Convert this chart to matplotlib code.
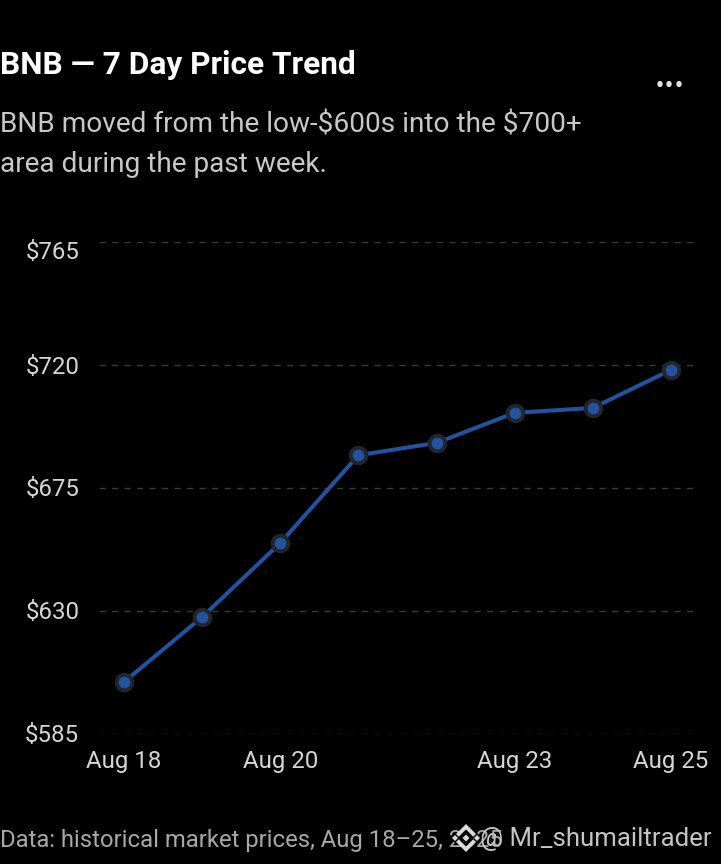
import matplotlib
matplotlib.use("Agg")
import matplotlib.pyplot as plt
from matplotlib.patches import Polygon
from matplotlib.transforms import ScaledTranslation

days = ["Aug 18", "", "Aug 20", "", "", "Aug 23", "", "Aug 25"]
prices = [604, 627.8, 654.9, 687, 691.5, 702.5, 704.3, 718.2]
y_ticks = [585, 630, 675, 720, 765]
y_labels = [r"\$585", r"\$630", r"\$675", r"\$720", r"\$765"]
y_label_shift_px = [-1, -1, -1, 0, 8]

W, H = 721, 864
plt.rcParams["font.family"] = ["Roboto", "DejaVu Sans"]
fig = plt.figure(figsize=(W / 100, H / 100), dpi=100, facecolor="black")
ax = fig.add_axes([99 / W, 1 - 734 / H, 595 / W, 492 / H], facecolor="black")

xs = list(range(len(prices)))
ax.plot(xs, prices, color="#2153A0", lw=2.9, zorder=3, clip_on=False)
ax.plot(xs, prices, ls="none", marker="o", ms=11.3, mfc="#2153A0", mec="#22252B",
        mew=2.8, zorder=4, clip_on=False)

ax.set_xlim(-0.32, 7.295)
ax.set_ylim(585, 765)
ax.set_yticks(y_ticks, y_labels)
ax.set_xticks([i for i, d in enumerate(days) if d], [d for d in days if d])
ax.grid(axis="y", color="#3A3A3A", lw=1, dashes=(4.5, 4.5))
ax.grid(axis="x", visible=False)
for s in ax.spines.values():
    s.set_visible(False)
ax.tick_params(axis="both", length=0, labelcolor="#D6D6D6", labelsize=17.3)
ax.tick_params(axis="y", pad=14.2)
ax.tick_params(axis="x", pad=11.7)
for lab, sh in zip(ax.get_yticklabels(), y_label_shift_px):
    lab.set_transform(lab.get_transform() + ScaledTranslation(0, -sh / 100, fig.dpi_scale_trans))


def px(x, y):
    return x / W, 1 - y / H


fig.text(*px(0.5, 65), "BNB — 7 Day Price Trend", color="white", fontsize=22.75,
         fontweight="bold", va="center", ha="left")
fig.text(*px(0.5, 125), r"BNB moved from the low-\$600s into the \$700+", color="#C8C8C8",
         fontsize=20.2, va="center", ha="left")
fig.text(*px(0.5, 164), "area during the past week.", color="#C8C8C8",
         fontsize=20.2, va="center", ha="left")
fig.text(*px(0.5, 841), "Data: historical market prices, Aug 18–25, 2025", color="#A8A8A8",
         fontsize=17.2, va="center", ha="left")
fig.text(*px(712, 839), "@ Mr_shumailtrader", color="#C4C4C4", fontsize=18.5,
         va="center", ha="right", zorder=6)

# overflow menu dots
for cx in (660, 669, 679):
    fig.add_artist(plt.Circle(px(cx, 84), 2.0 / W, color="#E0E0E0",
                              transform=fig.transFigure))


# watermark diamond icon
def diamond(cx, cy, r, color):
    pts = [(cx, cy - r), (cx + r, cy), (cx, cy + r), (cx - r, cy)]
    fig.add_artist(Polygon([px(*p) for p in pts], closed=True, facecolor=color,
                           edgecolor="none", transform=fig.transFigure, zorder=7))


diamond(466, 838, 14, "#DADADA")
diamond(466, 838, 8.5, "#000000")
diamond(466, 838, 3.5, "#DADADA")
for cx in (455, 477):
    diamond(cx, 838, 5, "#000000")
    diamond(cx, 838, 3, "#DADADA")

fig.savefig("out.png", dpi=100, facecolor="black")
